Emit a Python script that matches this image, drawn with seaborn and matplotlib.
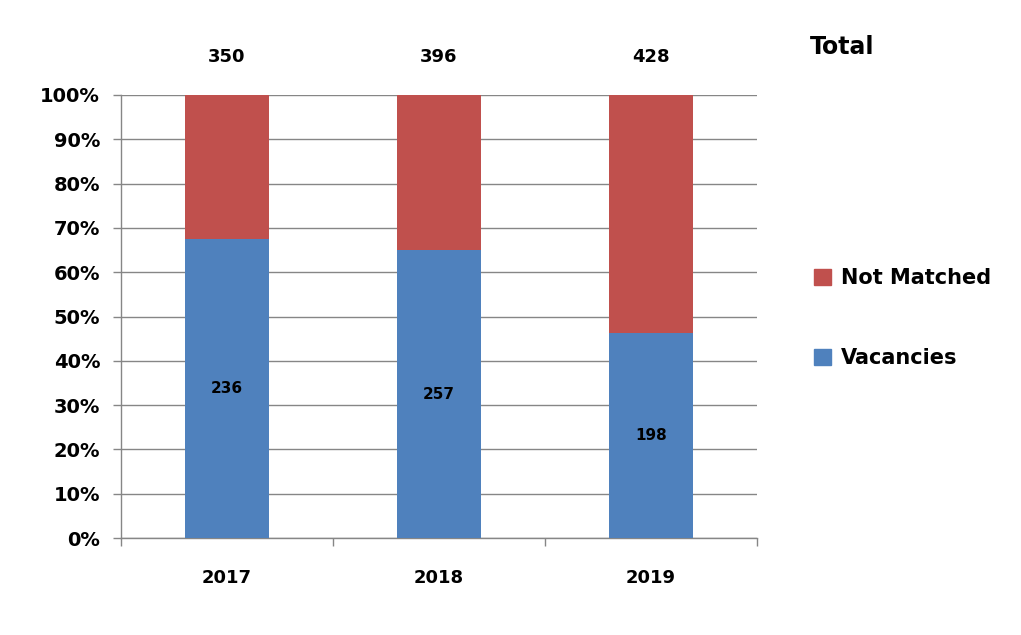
import pandas as pd
import matplotlib
matplotlib.use('Agg')
import matplotlib.pyplot as plt
import matplotlib.patches as mpatches
from matplotlib.ticker import FixedLocator, PercentFormatter
import seaborn as sns

years = ['2017', '2018', '2019']
totals = [350, 396, 428]
vacancies = [236, 257, 198]

df = pd.DataFrame({'Year': years, 'Total': totals, 'Vacancies': vacancies})
df['Full'] = 100.0
df['Vac_pct'] = df['Vacancies'] / df['Total'] * 100  # share of vacancies

red = '#C0504D'
blue = '#4F81BD'
grid_col = '#868686'

sns.set_style('white')
plt.rcParams['font.family'] = ['DejaVu Sans']
plt.rcParams['text.color'] = 'black'
plt.rcParams['xtick.color'] = grid_col
plt.rcParams['ytick.color'] = grid_col
plt.rcParams['xtick.labelcolor'] = 'black'
plt.rcParams['ytick.labelcolor'] = 'black'

fig = plt.figure(figsize=(10.21, 6.35), dpi=100)
ax = fig.add_axes([121 / 1021, 1 - 538 / 635, (757 - 121) / 1021, (538 - 95) / 635])

sns.barplot(data=df, x='Year', y='Full', color=red, width=0.4, saturation=1,
            linewidth=0, ax=ax, zorder=3)
sns.barplot(data=df, x='Year', y='Vac_pct', color=blue, width=0.4, saturation=1,
            linewidth=0, ax=ax, zorder=3)

ax.set_xlim(-0.5, 2.5)
ax.set_ylim(0, 100)
ax.set_yticks(range(0, 101, 10))
ax.yaxis.set_major_formatter(PercentFormatter(decimals=0))
ax.grid(axis='y', color=grid_col, linewidth=1, zorder=0)
ax.set_axisbelow(True)
ax.set_xlabel('')
ax.set_ylabel('')

for side in ['top', 'right']:
    ax.spines[side].set_visible(False)
for side in ['left', 'bottom']:
    ax.spines[side].set_color(grid_col)
    ax.spines[side].set_linewidth(1)

ax.tick_params(axis='y', left=True, length=6, width=1, color=grid_col, pad=9, labelsize=14)
ax.tick_params(axis='x', which='major', bottom=True, length=0, pad=22, labelsize=13)
ax.xaxis.set_minor_locator(FixedLocator([-0.5, 0.5, 1.5, 2.5]))
ax.tick_params(axis='x', which='minor', bottom=True, length=6, width=1, color=grid_col,
               direction='out')
for lbl in ax.get_xticklabels() + ax.get_yticklabels():
    lbl.set_fontweight('bold')

for i, row in df.iterrows():
    ax.text(i, row['Vac_pct'] / 2, str(row['Vacancies']), ha='center', va='center',
            fontsize=11, fontweight='bold', color='black', zorder=5)
    ax.text(i, 1.086, str(row['Total']), transform=ax.get_xaxis_transform(),
            ha='center', va='center', fontsize=13, fontweight='bold', color='black')

fig.text(810 / 1021, 1 - 47 / 635, 'Total', ha='left', va='center', fontsize=17,
         fontweight='bold', color='black')

handles = [mpatches.Patch(color=red, label='Not Matched'),
           mpatches.Patch(color=blue, label='Vacancies')]
leg = fig.legend(handles=handles, loc='center left', bbox_to_anchor=(814 / 1021, 1 - 318 / 635),
                 frameon=False, handlelength=0.8, handleheight=0.8, handletextpad=0.5,
                 labelspacing=2.9, borderpad=0, borderaxespad=0,
                 prop={'size': 15, 'weight': 'bold'})
for t in leg.get_texts():
    t.set_color('black')

fig.savefig('out.png', dpi=100)
